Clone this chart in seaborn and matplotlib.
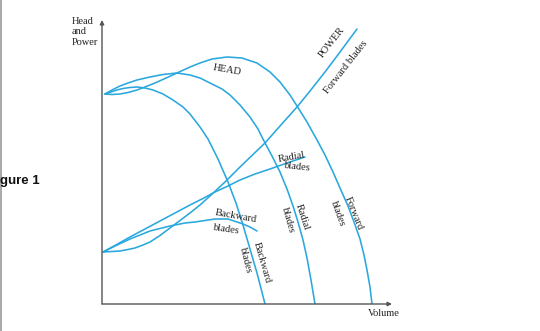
import matplotlib
matplotlib.use("Agg")
import matplotlib.pyplot as plt
import seaborn as sns
import pandas as pd

# ---- data (arbitrary units: volume, head / power) ----
bwd_head_v = [3, 9, 15, 21, 28, 35, 43, 51, 61, 71, 81, 88, 98, 106, 116, 126, 134, 141, 148, 155, 163]
bwd_head_h = [210, 212, 214, 215.5, 216.5, 217, 216, 214, 210, 204, 197, 190, 177, 165, 145, 122, 101, 79, 55, 31, 0]

rad_head_v = [3, 10, 18, 26, 35, 48, 61, 75, 88, 98, 110, 120, 128, 138, 148, 156, 163, 170, 178, 185, 191, 196, 201, 205, 209, 213]
rad_head_h = [210, 214, 218, 221, 224, 227, 229.5, 231, 229, 226, 220, 215, 209, 199, 187, 175, 161, 148, 132, 115, 98, 82, 64, 46, 24, 0]

fwd_head_v = [3, 10, 18, 26, 35, 43, 53, 63, 75, 88, 98, 110, 125, 140, 155, 168, 178, 188, 195, 205,
              215, 223, 231, 238, 246, 252, 258, 262, 265, 268, 270]
fwd_head_h = [210, 209.5, 210, 211.5, 214, 217, 221, 225.5, 231, 237, 241, 245, 247, 246, 241, 232, 222, 209, 198, 182,
              164, 149, 132, 116, 98, 82, 65, 49, 34, 17, 0]

rad_pow_v = [1, 13, 28, 43, 58, 73, 88, 101, 113, 126, 138, 153, 168, 185, 203]
rad_pow_p = [52, 58.5, 67, 75, 83, 91, 99, 105.5, 112, 118, 124, 130, 135, 141, 147]

fwd_pow_v = [1, 10, 18, 26, 33, 41, 48, 58, 68, 78, 88, 98, 108, 123, 138, 150, 163, 178, 195, 208, 223, 238, 255]
fwd_pow_p = [52, 52.5, 53, 54.5, 56, 59, 62, 68.5, 76, 83.5, 91, 99, 108, 122, 137, 148.5, 161, 178, 197, 213, 232, 252, 275]

bwd_pow_v = [1, 13, 28, 48, 68, 83, 93, 103, 113, 126, 141, 148, 155]
bwd_pow_p = [52, 58, 65, 73, 78, 81, 82, 83.5, 85, 85, 80, 77, 73]

series = {
    "bwd_head": (bwd_head_v, bwd_head_h),
    "rad_head": (rad_head_v, rad_head_h),
    "fwd_head": (fwd_head_v, fwd_head_h),
    "rad_pow": (rad_pow_v, rad_pow_p),
    "fwd_pow": (fwd_pow_v, fwd_pow_p),
    "bwd_pow": (bwd_pow_v, bwd_pow_p),
}

sns.set_theme(style="white")
plt.rcParams["font.family"] = ["Liberation Serif", "DejaVu Serif"]

W, H = 540, 331
fig = plt.figure(figsize=(W / 100, H / 100), dpi=100)
ax = fig.add_axes([102 / W, 1 - 304 / H, 290 / W, 284 / H])
ax.set_xlim(0, 290)
ax.set_ylim(0, 284)
ax.set_facecolor("none")

BLUE = "#2AA8DE"
for name, (xv, yv) in series.items():
    df = pd.DataFrame({"x": xv, "y": yv})
    line = sns.lineplot(data=df, x="x", y="y", sort=False, ax=ax, color=BLUE,
                        linewidth=1.15, estimator=None)
for ln in ax.lines:
    ln.set_solid_joinstyle("round")
    ln.set_solid_capstyle("round")

ax.set_xlabel("")
ax.set_ylabel("")
ax.set_xticks([])
ax.set_yticks([])
for s in ax.spines.values():
    s.set_visible(False)

AXC = "#555555"
ax.annotate("", xy=(0, 1), xytext=(0, 0), xycoords="axes fraction",
            arrowprops=dict(arrowstyle="-|>", color=AXC, lw=1.0,
                            mutation_scale=6, shrinkA=0, shrinkB=0))
ax.annotate("", xy=(1, 0), xytext=(0, 0), xycoords="axes fraction",
            arrowprops=dict(arrowstyle="-|>", color=AXC, lw=1.0,
                            mutation_scale=6, shrinkA=0, shrinkB=0))

TC = "#222222"
FS = 7.5


def t(px, py, s, rot=0, ha="center", va="center", **kw):
    fig.text(px / W, 1 - py / H, s, rotation=rot, ha=ha, va=va,
             color=TC, fontsize=kw.pop("fontsize", FS),
             rotation_mode="anchor", **kw)


t(72, 32, "Head\nand\nPower", ha="left", linespacing=1.2)
t(384, 314, "Volume")
t(227, 70, "HEAD", rot=-10)
t(332, 42, "POWER", rot=52)
t(346, 67, "Forward blades", rot=52)
t(292, 157, "Radial", rot=10)
t(297, 167, "blades", rot=-6)
t(236, 216, "Backward", rot=-10)
t(226, 229, "blades", rot=-8)
t(246, 260, "blades", rot=-76)
t(262, 263, "Backward", rot=-74)
t(288, 220, "blades", rot=-74)
t(302, 217, "Radial", rot=-72)
t(338, 214, "blades", rot=-70)
t(354, 213, "Forward", rot=-68)

fig.text(0 / W, 1 - 181 / H, "gure 1", ha="left", va="center",
         fontsize=9.5, fontweight="bold", color="#111111",
         family=["Liberation Sans", "DejaVu Sans"])

fig.add_artist(plt.Line2D([0.6 / W, 0.6 / W], [0, 1], color="#9a9a9a",
                          lw=1.2, transform=fig.transFigure))

fig.savefig("out.png", dpi=100)
